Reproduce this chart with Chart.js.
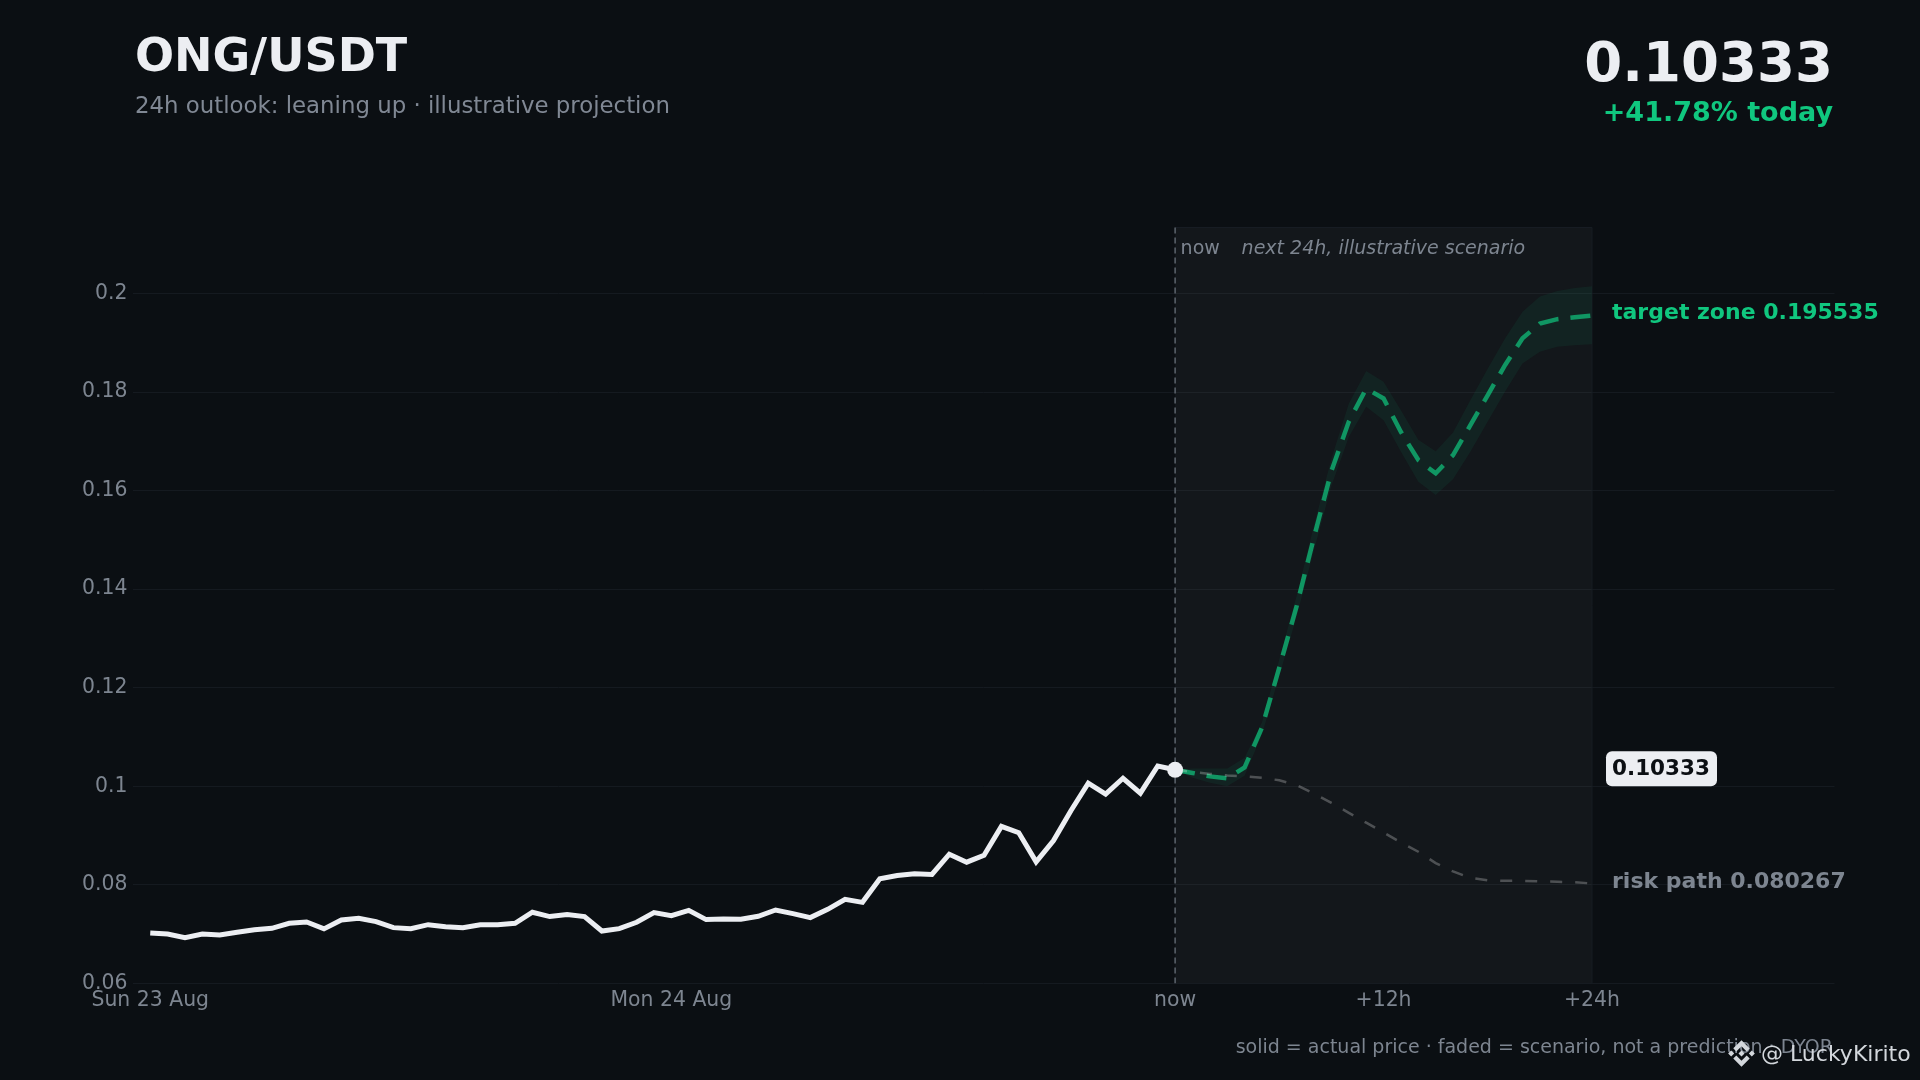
<!DOCTYPE html>
<html>
<head>
<meta charset="utf-8">
<title>ONG/USDT</title>
<script src="https://cdn.jsdelivr.net/npm/chart.js@4/dist/chart.umd.min.js"></script>
<style>
    html, body { margin: 0; padding: 0; background: #0b0f13; }
    body { width: 1920px; height: 1080px; overflow: hidden; position: relative; font-family: "DejaVu Sans", sans-serif; }
    canvas { position: absolute; left: 0; top: 0; }
    .txt { position: absolute; white-space: nowrap; line-height: 1; }
    #title { left: 135px; top: 32px; font-size: 46px; font-weight: bold; color: #eceef2; }
    #subtitle { left: 135px; top: 94px; font-size: 22.85px; color: #808894; }
    #price { right: 87px; top: 35px; font-size: 54.6px; font-weight: bold; color: #eceef2; }
    #change { right: 87px; top: 98px; font-size: 27px; font-weight: bold; color: #10c77f; }
    #note { right: 87px; top: 1037px; font-size: 19px; color: #7d8590; }
    #mark { left: 1761px; top: 1043px; font-size: 22px; color: #d3d7dc; }
    #logo { position: absolute; left: 1728px; top: 1040px; }
</style>
</head>
<body>
<canvas id="chart" width="1920" height="1080"></canvas>
<div class="txt" id="title">ONG/USDT</div>
<div class="txt" id="subtitle">24h outlook: leaning up · illustrative projection</div>
<div class="txt" id="price">0.10333</div>
<div class="txt" id="change">+41.78% today</div>
<div class="txt" id="note">solid = actual price · faded = scenario, not a prediction · DYOR</div>
<svg id="logo" width="27" height="27" viewBox="0 0 126 126" fill="#d3d7dc">
    <path d="M38.73 53.2L63 28.93l24.28 24.28 14.12-14.12L63 .69 24.61 39.08zM.69 63l14.12-14.12L28.93 63 14.81 77.12zM63 48.88L77.12 63 63 77.12 48.88 63zM97.07 63l14.12-14.12L125.31 63l-14.12 14.12zM87.28 72.8L63 97.07 38.73 72.8 24.61 86.91 63 125.31l38.39-38.4z"/>
</svg>
<div class="txt" id="mark">@ LuckyKirito</div>

<script>
// hourly closes
const priceValues = [
    0.0702, 0.0700, 0.06925, 0.0700, 0.0698, 0.07035, 0.07085, 0.07115, 0.07218, 0.07245,
    0.07105, 0.07286, 0.0732, 0.07252, 0.0713, 0.07109, 0.0719, 0.0715, 0.07129, 0.0719,
    0.0719, 0.07218, 0.07442, 0.07354, 0.07395, 0.07354, 0.07061, 0.07109, 0.07238, 0.07434,
    0.07374, 0.07481, 0.07293, 0.07306, 0.073, 0.0736, 0.07488, 0.07414, 0.07333, 0.07502,
    0.07704, 0.07643, 0.08121, 0.08189, 0.08222, 0.08209, 0.0862, 0.08458, 0.08599, 0.09185,
    0.09057, 0.08465, 0.08896, 0.09502, 0.10061, 0.09838, 0.10162, 0.09859, 0.10411, 0.10333
];
const targetValues = [
    0.10333, 0.1027, 0.102, 0.1016, 0.1038, 0.1119, 0.1241, 0.1366, 0.1506, 0.1640,
    0.1740, 0.1807, 0.1787, 0.1719, 0.1662, 0.1635, 0.1672, 0.1733, 0.1794, 0.1855,
    0.1909, 0.1939, 0.1948, 0.1952, 0.195535
];
const bandUpper = [
    0.10333, 0.1036, 0.1036, 0.1036, 0.1058, 0.1130, 0.1258, 0.1387, 0.1530, 0.1665,
    0.1777, 0.1843, 0.1821, 0.1763, 0.1703, 0.1680, 0.1718, 0.1784, 0.1848, 0.1909,
    0.1963, 0.1994, 0.2005, 0.2011, 0.2015
];
const bandLower = [
    0.10333, 0.1017, 0.1007, 0.1000, 0.1021, 0.1105, 0.1224, 0.1345, 0.1480, 0.1610,
    0.1709, 0.1770, 0.1743, 0.1679, 0.1618, 0.1591, 0.1623, 0.1679, 0.1740, 0.1801,
    0.1858, 0.1882, 0.1892, 0.1895, 0.1897
];
const riskValues = [
    0.10333, 0.1029, 0.1025, 0.1022, 0.1020, 0.1017, 0.1012, 0.1002, 0.0985, 0.0966,
    0.0946, 0.0926, 0.0906, 0.0886, 0.0867, 0.0844, 0.0827, 0.0814, 0.0809, 0.0808,
    0.0808, 0.0807, 0.0806, 0.0805, 0.080267
];
const xTickPositions = [0, 30, 59, 71, 83];
const xTickLabels = ['Sun 23 Aug', 'Mon 24 Aug', 'now', '+12h', '+24h'];
const yTickValues = [0.06, 0.08, 0.1, 0.12, 0.14, 0.16, 0.18, 0.2];

const nowIndex = priceValues.length - 1;
const lastPrice = priceValues[nowIndex];
const targetEnd = targetValues[targetValues.length - 1];
const riskEnd = riskValues[riskValues.length - 1];

const toPast = (v, i) => ({ x: i, y: v });
const toFuture = (v, i) => ({ x: nowIndex + i, y: v });

const FONT = '"DejaVu Sans", sans-serif';

// shaded forecast zone, goes under the lines
const zonePlugin = {
    id: 'zone',
    beforeDatasetsDraw(chart) {
        const { ctx, chartArea, scales } = chart;
        const x0 = scales.x.getPixelForValue(nowIndex);
        const x1 = scales.x.getPixelForValue(nowIndex + 24);
        ctx.save();
        ctx.fillStyle = 'rgba(255,255,255,0.035)';
        ctx.fillRect(x0, chartArea.top, x1 - x0, chartArea.bottom - chartArea.top);
        ctx.strokeStyle = '#171c23';
        ctx.lineWidth = 1;
        ctx.beginPath();
        ctx.moveTo(x0, chartArea.top);
        ctx.lineTo(x1, chartArea.top);
        ctx.lineTo(x1, chartArea.bottom);
        ctx.stroke();
        ctx.strokeStyle = '#5d646e';
        ctx.lineWidth = 1.5;
        ctx.setLineDash([6, 4]);
        ctx.beginPath();
        ctx.moveTo(x0, chartArea.top);
        ctx.lineTo(x0, chartArea.bottom);
        ctx.stroke();
        ctx.restore();
    }
};

// text next to the lines
const labelPlugin = {
    id: 'labels',
    afterDatasetsDraw(chart) {
        const { ctx, chartArea, scales } = chart;
        const x0 = scales.x.getPixelForValue(nowIndex);
        const labelX = scales.x.getPixelForValue(nowIndex + 24) + 20;
        ctx.save();
        ctx.textBaseline = 'middle';
        ctx.textAlign = 'left';

        ctx.font = '19px ' + FONT;
        ctx.fillStyle = '#7d8590';
        ctx.fillText('now', x0 + 5.5, chartArea.top + 22);
        ctx.font = 'italic 19px ' + FONT;
        ctx.fillText('next 24h, illustrative scenario', x0 + 66.5, chartArea.top + 22);

        ctx.font = 'bold 22px ' + FONT;
        ctx.fillStyle = '#10c77f';
        ctx.fillText('target zone ' + targetEnd, labelX, scales.y.getPixelForValue(targetEnd) - 2);
        ctx.fillStyle = '#7d8590';
        ctx.fillText('risk path ' + riskEnd, labelX, scales.y.getPixelForValue(riskEnd) - 1);

        const tagY = scales.y.getPixelForValue(lastPrice);
        ctx.fillStyle = '#eceef2';
        ctx.beginPath();
        ctx.roundRect(labelX - 6, tagY - 18.5, 111, 35, 6);
        ctx.fill();
        ctx.fillStyle = '#0b0f13';
        ctx.font = 'bold 21.5px ' + FONT;
        ctx.fillText(String(lastPrice), labelX, tagY);
        ctx.restore();
    }
};

Chart.defaults.font.family = FONT;

new Chart(document.getElementById('chart').getContext('2d'), {
    type: 'line',
    data: {
        datasets: [
            {
                label: 'band lower',
                data: bandLower.map(toFuture),
                borderWidth: 0,
                pointRadius: 0,
                fill: false,
                order: 6
            },
            {
                label: 'band upper',
                data: bandUpper.map(toFuture),
                borderWidth: 0,
                pointRadius: 0,
                backgroundColor: 'rgba(16,199,127,0.07)',
                fill: '-1',
                order: 5
            },
            {
                label: 'target',
                data: targetValues.map(toFuture),
                borderColor: 'rgba(16,199,127,0.7)',
                borderWidth: 4.5,
                borderDash: [20, 12],
                borderCapStyle: 'butt',
                pointRadius: 0,
                order: 4
            },
            {
                label: 'risk',
                data: riskValues.map(toFuture),
                borderColor: 'rgba(255,255,255,0.25)',
                borderWidth: 2.5,
                borderDash: [12, 13],
                borderCapStyle: 'butt',
                pointRadius: 0,
                order: 3
            },
            {
                label: 'price',
                data: priceValues.map(toPast),
                borderColor: '#eceef2',
                borderWidth: 5,
                pointRadius: 0,
                order: 2
            },
            {
                label: 'last',
                data: [{ x: nowIndex, y: lastPrice }],
                pointRadius: 8,
                pointBackgroundColor: '#eceef2',
                pointBorderWidth: 0,
                showLine: false,
                order: 1
            }
        ]
    },
    options: {
        responsive: false,
        animation: false,
        devicePixelRatio: 1,
        layout: { padding: { top: 227.5, right: 85.5, bottom: 0, left: 0 } },
        plugins: { legend: { display: false }, tooltip: { enabled: false } },
        scales: {
            x: {
                type: 'linear',
                min: -0.97,
                max: 96.96,
                afterBuildTicks(scale) { scale.ticks = xTickPositions.map(v => ({ value: v })); },
                afterFit(scale) { scale.height = 96.7; },
                grid: { display: false, drawTicks: false },
                border: { display: false },
                ticks: {
                    autoSkip: false,
                    maxRotation: 0,
                    padding: 5,
                    color: '#7d8590',
                    font: { size: 20.4 },
                    callback: (v, i) => xTickLabels[i]
                }
            },
            y: {
                min: 0.06,
                max: 0.2134,
                afterBuildTicks(scale) { scale.ticks = yTickValues.map(v => ({ value: v })); },
                afterFit(scale) { scale.width = 133.4; },
                grid: { color: '#151a20', lineWidth: 1, drawTicks: false },
                border: { display: false },
                ticks: {
                    padding: 6,
                    color: '#7d8590',
                    font: { size: 20.4 },
                    callback: v => String(v)
                }
            }
        }
    },
    plugins: [zonePlugin, labelPlugin]
});
</script>
</body>
</html>
